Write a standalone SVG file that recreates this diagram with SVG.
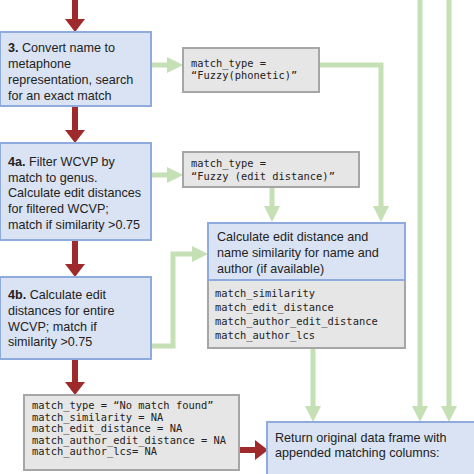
<svg xmlns="http://www.w3.org/2000/svg" width="474" height="474" viewBox="0 0 474 474">
<style>
.blue{fill:#dae3f3;stroke:#8faadc;stroke-width:2}
.gray{fill:#e6e6e6;stroke:#a6a6a6;stroke-width:2}
.t{font-family:"Liberation Sans",Arial,sans-serif;font-size:12.6px;fill:#222}
.b{font-weight:bold}
.m{font-family:"DejaVu Sans Mono","Liberation Mono",monospace;font-size:10.4px;fill:#222}
.red{stroke:#9e2a2b;stroke-width:6;fill:none}
.redh{fill:#9e2a2b}
.grn{stroke:#c5e0b4;stroke-width:5;fill:none}
.grnh{fill:#c5e0b4}
</style>
<rect width="474" height="474" fill="#ffffff"/>
<g id="connectors">
<path class="grn" d="M420 0V410M449 0V410"/>
<polygon class="grnh" points="412,406 428,406 420,422"/>
<polygon class="grnh" points="441,406 457,406 449,422"/>
<path class="grn" d="M151 65H170M151 175H170"/>
<polygon class="grnh" points="167,57 167,73 183,65"/>
<polygon class="grnh" points="167,167 167,183 183,175"/>
<path class="grn" d="M319 65H381V210"/>
<polygon class="grnh" points="373,206 389,206 381,222"/>
<path class="grn" d="M272 187V210"/>
<polygon class="grnh" points="264,206 280,206 272,222"/>
<path class="grn" d="M151 346H173V254H195"/>
<polygon class="grnh" points="192,246 192,262 208,254"/>
<path class="grn" d="M313 348V410"/>
<polygon class="grnh" points="305,406 321,406 313,422"/>
<path class="red" d="M75 0V22M75 106V133M75 240V267M75 359V385M239 450H258"/>
<polygon class="redh" points="65,19 85,19 75,32"/>
<polygon class="redh" points="65,130 85,130 75,143"/>
<polygon class="redh" points="65,264 85,264 75,277"/>
<polygon class="redh" points="65,382 85,382 75,395"/>
<polygon class="redh" points="255,440 255,460 268,450"/>
</g>
<g id="step3">
<rect class="blue" x="0" y="32" width="151" height="74"/>
<text class="t" x="8" y="52"><tspan class="b">3.</tspan> Convert name to</text>
<text class="t" x="8" y="68">metaphone</text>
<text class="t" x="8" y="84">representation, search</text>
<text class="t" x="8" y="100">for an exact match</text>
</g>
<g id="phonetic">
<rect class="gray" x="183" y="48" width="136" height="44"/>
<text class="m" x="191" y="67">match_type =</text>
<text class="m" x="191" y="79">“Fuzzy(phonetic)”</text>
</g>
<g id="step4a">
<rect class="blue" x="0" y="143" width="151" height="97"/>
<text class="t" x="8" y="166"><tspan class="b">4a.</tspan> Filter WCVP by</text>
<text class="t" x="8" y="182">match to genus.</text>
<text class="t" x="8" y="197">Calculate edit distances</text>
<text class="t" x="8" y="213">for filtered WCVP;</text>
<text class="t" x="8" y="229">match if similarity &gt;0.75</text>
</g>
<g id="editdist">
<rect class="gray" x="183" y="152" width="176" height="35"/>
<text class="m" x="191" y="167">match_type =</text>
<text class="m" x="191" y="180">“Fuzzy (edit distance)”</text>
</g>
<g id="calc">
<rect class="gray" x="208" y="280" width="197" height="68"/>
<rect class="blue" x="208" y="223" width="197" height="57"/>
<text class="t" x="217" y="241">Calculate edit distance and</text>
<text class="t" x="217" y="257">name similarity for name and</text>
<text class="t" x="217" y="273">author (if available)</text>
<text class="m" x="215" y="297">match_similarity</text>
<text class="m" x="215" y="311">match_edit_distance</text>
<text class="m" x="215" y="325">match_author_edit_distance</text>
<text class="m" x="215" y="339">match_author_lcs</text>
</g>
<g id="step4b">
<rect class="blue" x="0" y="277" width="151" height="82"/>
<text class="t" x="8" y="299"><tspan class="b">4b.</tspan> Calculate edit</text>
<text class="t" x="8" y="315">distances for entire</text>
<text class="t" x="8" y="331">WCVP; match if</text>
<text class="t" x="8" y="346">similarity &gt;0.75</text>
</g>
<g id="nomatch">
<rect class="gray" x="24" y="395" width="215" height="75"/>
<text class="m" x="32" y="409">match_type = “No match found”</text>
<text class="m" x="32" y="421">match_similarity = NA</text>
<text class="m" x="32" y="432">match_edit_distance = NA</text>
<text class="m" x="32" y="444">match_author_edit_distance = NA</text>
<text class="m" x="32" y="455">match_author_lcs= NA</text>
</g>
<g id="result">
<rect class="blue" x="267" y="422" width="212" height="60"/>
<text class="t" x="275" y="442">Return original data frame with</text>
<text class="t" x="275" y="457">appended matching columns:</text>
</g>
</svg>
